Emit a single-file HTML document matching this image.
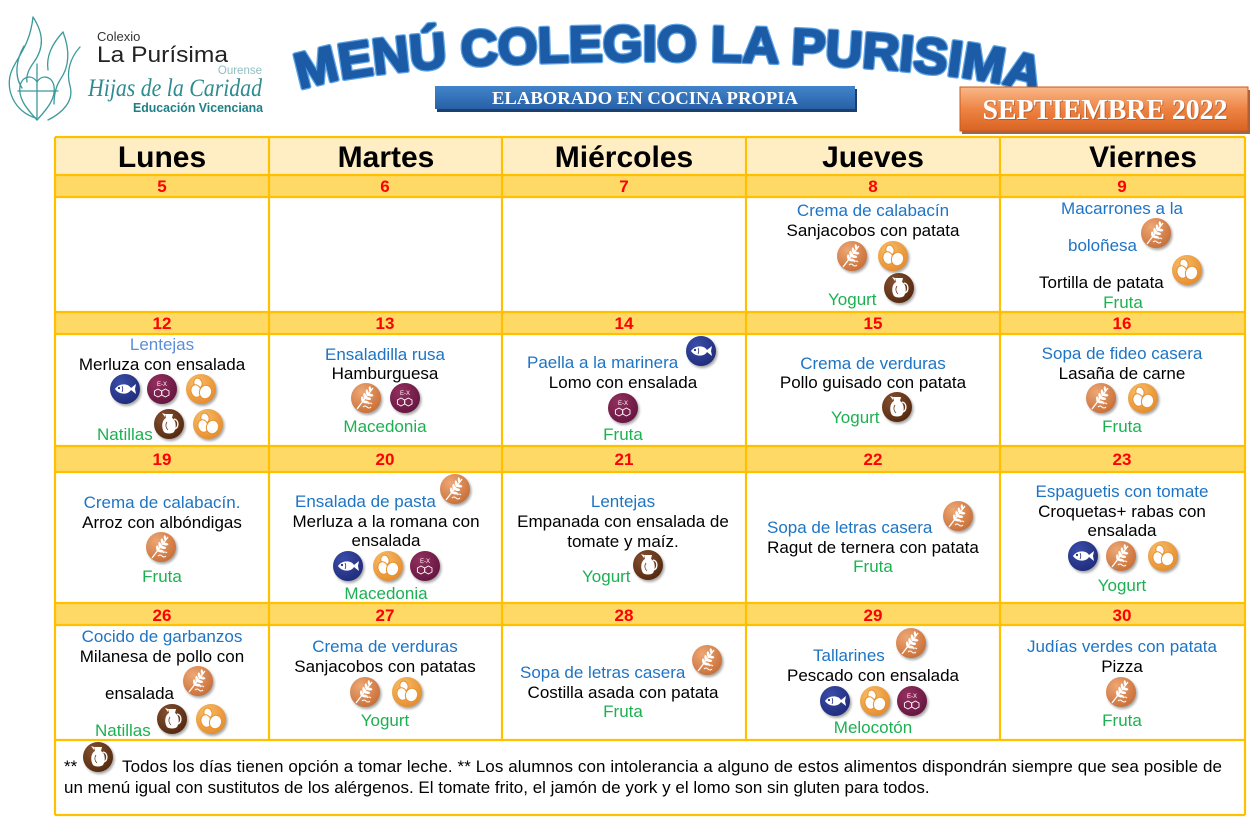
<!DOCTYPE html>
<html><head><meta charset="utf-8"><style>
html,body{margin:0;padding:0;background:#fff;}
svg{display:block;}
text{font-family:"Liberation Sans",Arial,sans-serif;}
.b{fill:#1E74C4;font-size:17px;text-anchor:middle;}
.k{fill:#000;font-size:17px;text-anchor:middle;}
.g{fill:#1DB052;font-size:17px;text-anchor:middle;}
.s{text-anchor:start;}
.d{fill:#FF0000;font-size:17px;font-weight:bold;text-anchor:middle;}
.h{fill:#000;font-size:30px;font-weight:bold;text-anchor:middle;}
</style></head><body>
<svg width="1259" height="824" viewBox="0 0 1259 824" xmlns="http://www.w3.org/2000/svg">
<defs>
<filter id="sh" x="-40%" y="-40%" width="180%" height="180%"><feGaussianBlur stdDeviation="1.2"/></filter>
<radialGradient id="gW" cx="35%" cy="30%" r="75%"><stop offset="0" stop-color="#EDA775"/><stop offset="1" stop-color="#C96F38"/></radialGradient>
<radialGradient id="gE" cx="35%" cy="30%" r="75%"><stop offset="0" stop-color="#F7BE6A"/><stop offset="1" stop-color="#E68C2C"/></radialGradient>
<radialGradient id="gF" cx="35%" cy="30%" r="75%"><stop offset="0" stop-color="#3A4DA8"/><stop offset="1" stop-color="#202C7C"/></radialGradient>
<radialGradient id="gX" cx="35%" cy="30%" r="75%"><stop offset="0" stop-color="#93305F"/><stop offset="1" stop-color="#661540"/></radialGradient>
<radialGradient id="gM" cx="35%" cy="30%" r="75%"><stop offset="0" stop-color="#835030"/><stop offset="1" stop-color="#55290F"/></radialGradient>
<linearGradient id="gBlue" x1="0" y1="0" x2="0" y2="1"><stop offset="0" stop-color="#4184CC"/><stop offset="1" stop-color="#2860A6"/></linearGradient>
<linearGradient id="gOr" x1="0" y1="0" x2="0" y2="1"><stop offset="0" stop-color="#F9B88A"/><stop offset="0.5" stop-color="#EE8444"/><stop offset="1" stop-color="#DA6322"/></linearGradient>

<g id="wheat">
<circle cx="1.5" cy="2" r="15" fill="#000" opacity=".35" filter="url(#sh)"/>
<circle r="15" fill="url(#gW)"/>
<path d="M-9,11 L7,-10" stroke="#fff" stroke-width="1.3" fill="none"/>
<g fill="#fff">
<ellipse cx="-3.5" cy="1.5" rx="1.4" ry="3.2" transform="rotate(-10 -3.5 1.5)"/>
<ellipse cx="-0.3" cy="4" rx="1.4" ry="3.2" transform="rotate(-80 -0.3 4)"/>
<ellipse cx="-1.2" cy="-2" rx="1.4" ry="3.2" transform="rotate(-10 -1.2 -2)"/>
<ellipse cx="2" cy="0.5" rx="1.4" ry="3.2" transform="rotate(-80 2 0.5)"/>
<ellipse cx="1.2" cy="-5.5" rx="1.4" ry="3.2" transform="rotate(-10 1.2 -5.5)"/>
<ellipse cx="4.2" cy="-3" rx="1.4" ry="3.2" transform="rotate(-80 4.2 -3)"/>
<ellipse cx="4" cy="-9" rx="1.2" ry="2.8" transform="rotate(-10 4 -9)"/>
</g>
<path d="M-3,9 q2,-2 4,0 q2,2 4,0 M2,6 q2,-2 4,0" stroke="#fff" stroke-width="1" fill="none"/>
</g>

<g id="egg">
<circle cx="1.5" cy="2" r="15" fill="#000" opacity=".35" filter="url(#sh)"/>
<circle r="15" fill="url(#gE)"/>
<g fill="#fff" stroke="#E8902E" stroke-width="1">
<ellipse cx="-3" cy="-6" rx="4" ry="5" transform="rotate(-20 -3 -6)"/>
<ellipse cx="-5" cy="2" rx="5" ry="6.3" transform="rotate(-15 -5 2)"/>
<ellipse cx="4.5" cy="3" rx="6" ry="6.8" transform="rotate(20 4.5 3)"/>
</g>
</g>

<g id="fish">
<circle cx="1.5" cy="2" r="15" fill="#000" opacity=".35" filter="url(#sh)"/>
<circle r="15" fill="url(#gF)"/>
<path d="M-10,0 C-6,-6 3,-6 6,-1 L11,-5 L10,0 L11,5 L6,1 C3,6 -6,6 -10,0 Z" fill="#fff"/>
<circle cx="-6" cy="-1" r="1.1" fill="#202C7C"/>
<path d="M-3,-3 q1.5,3 0,6" stroke="#202C7C" stroke-width=".8" fill="none"/>
</g>

<g id="ex">
<circle cx="1.5" cy="2" r="15" fill="#000" opacity=".35" filter="url(#sh)"/>
<circle r="15" fill="url(#gX)"/>
<polygon points="-4,0 -0.4,2 -0.4,6 -4,8 -7.6,6 -7.6,2" fill="none" stroke="#fff" stroke-width=".9"/>
<polygon points="3.4,0 7,2 7,6 3.4,8 -0.2,6 -0.2,2" fill="none" stroke="#fff" stroke-width=".9"/>
</g>

<g id="milk">
<circle cx="1.5" cy="2" r="15" fill="#000" opacity=".35" filter="url(#sh)"/>
<circle r="15" fill="url(#gM)"/>
<path d="M-4,-10 L4,-10 L3,-6 C7,-4 8,3 5,8 C3,10 -3,10 -5,8 C-8,3 -7,-4 -3,-6 Z" fill="#fff"/>
<path d="M-4,-10 L-7,-11 L-4,-7" fill="#fff"/>
<path d="M5,-5 C10,-4 10,3 6,5" stroke="#fff" stroke-width="1.4" fill="none"/>
<path d="M-2,-2 C-4,1 -3,4 -1,6" stroke="#6A3A1E" stroke-width=".8" fill="none"/>
</g>
<path id="arc" d="M300,90 C400,50 940,50 1044,96" fill="none"/>
</defs>

<!-- LOGO -->
<g fill="none" stroke="#3A9A9B" stroke-width="1.3" stroke-linecap="round">
<path d="M36,118 C14,112 4,88 12,70 C18,56 30,45 33,17"/>
<path d="M33,17 C44,34 44,48 34,62 C28,70 26,76 27,82"/>
<path d="M63,32 C52,44 46,56 48,70"/>
<path d="M63,32 C70,50 70,66 60,80 C55,88 54,96 54,104"/>
<path d="M80,47 C70,58 66,72 70,86 C74,100 64,112 48,120"/>
<path d="M24,46 C16,60 14,76 22,88"/>
<path d="M37,120 C26,108 18,98 20,86 C22,76 32,74 37,82 C42,74 52,76 54,86 C56,98 48,108 37,120 Z"/>
<path d="M37,64 L37,118 M18,91 L58,91"/>
</g>
<text x="97" y="41" font-size="13" fill="#333">Colexio</text>
<text x="97" y="62" font-size="22" fill="#222" textLength="131" lengthAdjust="spacingAndGlyphs">La Purísima</text>
<text x="262" y="74" font-size="11.5" fill="#8EBFC2" text-anchor="end">Ourense</text>
<text x="88" y="96" font-size="25" fill="#2E8B8E" font-style="italic" style="font-family:'Liberation Serif',serif" textLength="174" lengthAdjust="spacingAndGlyphs">Hijas de la Caridad</text>
<text x="133" y="112" font-size="13" fill="#1E7F86" font-weight="bold" textLength="130" lengthAdjust="spacingAndGlyphs">Educación Vicenciana</text>

<!-- TITLE -->
<text font-size="50" font-weight="bold" fill="#5BA3E6" stroke="#5BA3E6" stroke-width="4.5" stroke-linejoin="round"><textPath href="#arc" textLength="742" lengthAdjust="spacingAndGlyphs">MENÚ COLEGIO LA PURISIMA</textPath></text>
<text font-size="50" font-weight="bold" fill="#1C5BA6" stroke="#1C5BA6" stroke-width="2" stroke-linejoin="round"><textPath href="#arc" textLength="742" lengthAdjust="spacingAndGlyphs">MENÚ COLEGIO LA PURISIMA</textPath></text>

<!-- ELABORADO banner -->
<rect x="437" y="89" width="420" height="23" fill="#1D3F6E"/>
<rect x="435" y="86" width="420" height="23" fill="url(#gBlue)"/>
<text x="645" y="104" font-size="18" font-weight="bold" fill="#fff" text-anchor="middle" style="font-family:'Liberation Serif',serif" textLength="306" lengthAdjust="spacingAndGlyphs">ELABORADO EN COCINA PROPIA</text>

<!-- SEPTIEMBRE banner -->
<rect x="962" y="90" width="288" height="44" fill="#7A3410" opacity=".75"/>
<rect x="960" y="87" width="288" height="44" fill="url(#gOr)" stroke="#C8581A" stroke-width="1"/>
<text x="1106" y="120" font-size="28" font-weight="bold" fill="#7A3410" opacity=".4" text-anchor="middle" style="font-family:'Liberation Serif',serif" textLength="245" lengthAdjust="spacingAndGlyphs">SEPTIEMBRE 2022</text>
<text x="1105" y="119" font-size="28" font-weight="bold" fill="#fff" text-anchor="middle" style="font-family:'Liberation Serif',serif" textLength="245" lengthAdjust="spacingAndGlyphs">SEPTIEMBRE 2022</text>

<!-- TABLE FILLS -->
<rect x="55" y="137" width="1190" height="38" fill="#FFEEC4"/>
<rect x="55" y="175" width="1190" height="22" fill="#FFD966"/>
<rect x="55" y="312" width="1190" height="22" fill="#FFD966"/>
<rect x="55" y="446" width="1190" height="26" fill="#FFD966"/>
<rect x="55" y="603" width="1190" height="22" fill="#FFD966"/>

<!-- GRID -->
<g stroke="#FFC000" stroke-width="2.2" fill="none">
<path d="M55,137H1245 M55,175H1245 M55,197H1245 M55,312H1245 M55,334H1245 M55,446H1245 M55,472H1245 M55,603H1245 M55,625H1245 M55,740H1245 M55,815H1245"/>
<path d="M269,137V740 M502,137V740 M746,137V740 M1000,137V740 M55,137V815 M1245,137V815"/>
</g>

<!-- HEADER -->
<text class="h" x="162" y="167">Lunes</text>
<text class="h" x="386" y="167">Martes</text>
<text class="h" x="624" y="167">Miércoles</text>
<text class="h" x="873" y="167">Jueves</text>
<text class="h" x="1143" y="167">Viernes</text>

<!-- DATES -->
<text class="d" x="162" y="192">5</text><text class="d" x="385" y="192">6</text><text class="d" x="624" y="192">7</text><text class="d" x="873" y="192">8</text><text class="d" x="1122" y="192">9</text>
<text class="d" x="162" y="329">12</text><text class="d" x="385" y="329">13</text><text class="d" x="624" y="329">14</text><text class="d" x="873" y="329">15</text><text class="d" x="1122" y="329">16</text>
<text class="d" x="162" y="465">19</text><text class="d" x="385" y="465">20</text><text class="d" x="624" y="465">21</text><text class="d" x="873" y="465">22</text><text class="d" x="1122" y="465">23</text>
<text class="d" x="162" y="621">26</text><text class="d" x="385" y="621">27</text><text class="d" x="624" y="621">28</text><text class="d" x="873" y="621">29</text><text class="d" x="1122" y="621">30</text>

<!-- CELL 8 -->
<text class="b" x="873" y="216">Crema de calabacín</text>
<text class="k" x="873" y="236">Sanjacobos con patata</text>
<use href="#wheat" x="852" y="256"/><use href="#egg" x="893" y="256"/>
<text class="g s" x="828" y="305">Yogurt</text><use href="#milk" x="899" y="288"/>

<!-- CELL 9 -->
<text class="b" x="1122" y="214">Macarrones a la</text>
<text class="b s" x="1068" y="251">boloñesa</text><use href="#wheat" x="1156" y="233"/>
<text class="k s" x="1039" y="288">Tortilla de patata</text><use href="#egg" x="1187" y="270"/>
<text class="g" x="1123" y="308">Fruta</text>

<!-- CELL 12 -->
<text class="b" x="162" y="350" style="fill:#5B8ED6">Lentejas</text>
<text class="k" x="162" y="370">Merluza con ensalada</text>
<use href="#fish" x="125" y="389"/><use href="#ex" x="162" y="389"/><text x="162" y="386" font-size="6" fill="#fff" text-anchor="middle">E-X</text><use href="#egg" x="201" y="389"/>
<use href="#milk" x="169" y="424"/><use href="#egg" x="208" y="424"/>
<text class="g s" x="97" y="440">Natillas</text>

<!-- CELL 13 -->
<text class="b" x="385" y="360">Ensaladilla rusa</text>
<text class="k" x="385" y="379">Hamburguesa</text>
<use href="#wheat" x="366" y="398"/><use href="#ex" x="405" y="398"/><text x="405" y="395" font-size="6" fill="#fff" text-anchor="middle">E-X</text>
<text class="g" x="385" y="432">Macedonia</text>

<!-- CELL 14 -->
<text class="b s" x="527" y="368">Paella a la marinera</text><use href="#fish" x="701" y="351"/>
<text class="k" x="623" y="388">Lomo con ensalada</text>
<use href="#ex" x="623" y="408"/><text x="623" y="405" font-size="6" fill="#fff" text-anchor="middle">E-X</text>
<text class="g" x="623" y="440">Fruta</text>

<!-- CELL 15 -->
<text class="b" x="873" y="369">Crema de verduras</text>
<text class="k" x="873" y="388">Pollo guisado con patata</text>
<use href="#milk" x="897" y="407"/>
<text class="g s" x="831" y="423">Yogurt</text>

<!-- CELL 16 -->
<text class="b" x="1122" y="359">Sopa de fideo casera</text>
<text class="k" x="1122" y="379">Lasaña de carne</text>
<use href="#wheat" x="1101" y="398"/><use href="#egg" x="1143" y="398"/>
<text class="g" x="1122" y="432">Fruta</text>

<!-- CELL 19 -->
<text class="b" x="162" y="508">Crema de calabacín.</text>
<text class="k" x="162" y="528">Arroz con albóndigas</text>
<use href="#wheat" x="161" y="547"/>
<text class="g" x="162" y="582">Fruta</text>

<!-- CELL 20 -->
<text class="b s" x="295" y="507">Ensalada de pasta</text><use href="#wheat" x="455" y="489"/>
<text class="k" x="386" y="527">Merluza a la romana con</text>
<text class="k" x="386" y="546">ensalada</text>
<use href="#fish" x="348" y="566"/><use href="#egg" x="388" y="566"/><use href="#ex" x="425" y="566"/><text x="425" y="563" font-size="6" fill="#fff" text-anchor="middle">E-X</text>
<text class="g" x="386" y="599">Macedonia</text>

<!-- CELL 21 -->
<text class="b" x="623" y="507">Lentejas</text>
<text class="k" x="623" y="527">Empanada con ensalada de</text>
<text class="k" x="623" y="547">tomate y maíz.</text>
<use href="#milk" x="648" y="565"/>
<text class="g s" x="582" y="582">Yogurt</text>

<!-- CELL 22 -->
<text class="b s" x="767" y="533">Sopa de letras casera</text><use href="#wheat" x="958" y="516"/>
<text class="k" x="873" y="553">Ragut de ternera con patata</text>
<text class="g" x="873" y="572">Fruta</text>

<!-- CELL 23 -->
<text class="b" x="1122" y="497">Espaguetis con tomate</text>
<text class="k" x="1122" y="517">Croquetas+ rabas con</text>
<text class="k" x="1122" y="536">ensalada</text>
<use href="#fish" x="1083" y="556"/><use href="#wheat" x="1121" y="556"/><use href="#egg" x="1163" y="556"/>
<text class="g" x="1122" y="591">Yogurt</text>

<!-- CELL 26 -->
<text class="b" x="162" y="642">Cocido de garbanzos</text>
<text class="k" x="162" y="662">Milanesa de pollo con</text>
<text class="k s" x="105" y="699">ensalada</text><use href="#wheat" x="198" y="681"/>
<text class="g s" x="95" y="736">Natillas</text><use href="#milk" x="172" y="719"/><use href="#egg" x="211" y="719"/>

<!-- CELL 27 -->
<text class="b" x="385" y="652">Crema de verduras</text>
<text class="k" x="385" y="672">Sanjacobos con patatas</text>
<use href="#wheat" x="365" y="692"/><use href="#egg" x="407" y="692"/>
<text class="g" x="385" y="726">Yogurt</text>

<!-- CELL 28 -->
<text class="b s" x="520" y="678">Sopa de letras casera</text><use href="#wheat" x="707" y="660"/>
<text class="k" x="623" y="698">Costilla asada con patata</text>
<text class="g" x="623" y="717">Fruta</text>

<!-- CELL 29 -->
<text class="b s" x="813" y="661">Tallarines</text><use href="#wheat" x="911" y="643"/>
<text class="k" x="873" y="681">Pescado con ensalada</text>
<use href="#fish" x="835" y="701"/><use href="#egg" x="875" y="701"/><use href="#ex" x="912" y="701"/><text x="912" y="698" font-size="6" fill="#fff" text-anchor="middle">E-X</text>
<text class="g" x="873" y="733">Melocotón</text>

<!-- CELL 30 -->
<text class="b" x="1122" y="652">Judías verdes con patata</text>
<text class="k" x="1122" y="672">Pizza</text>
<use href="#wheat" x="1121" y="692"/>
<text class="g" x="1122" y="726">Fruta</text>

<!-- FOOTER -->
<text x="64" y="772" font-size="17" fill="#000">**</text>
<use href="#milk" x="98" y="757"/>
<text x="122" y="772" font-size="17" fill="#000" textLength="1100" lengthAdjust="spacing">Todos los días tienen opción a tomar leche. ** Los alumnos con intolerancia a alguno de estos alimentos dispondrán siempre que sea posible de</text>
<text x="64" y="793" font-size="17" fill="#000">un menú igual con sustitutos de los alérgenos. El tomate frito, el jamón de york y el lomo son sin gluten para todos.</text>
</svg>
</body></html>
